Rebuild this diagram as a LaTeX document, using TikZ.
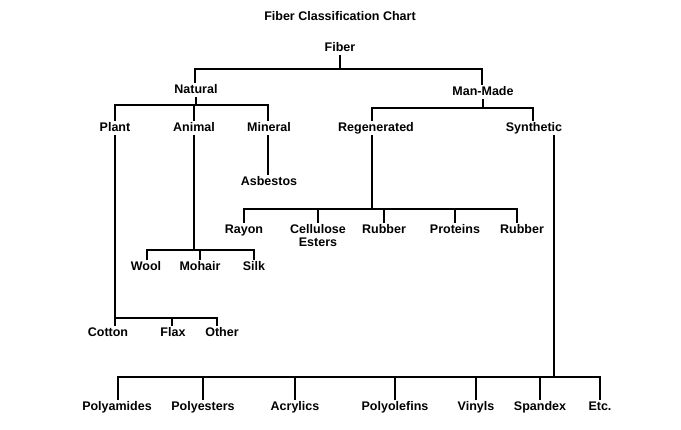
\documentclass[tikz,border=0pt]{standalone}
\usepackage{fontspec}
\setmainfont{Liberation Sans}
\begin{document}
\begin{tikzpicture}[x=1pt,y=-1pt,
    lbl/.style={font=\fontsize{12.5}{13.5}\selectfont\bfseries, inner sep=1pt, align=center, text height=9pt, text depth=2.5pt},
    link/.style={line width=1.4pt}]
\useasboundingbox (0,0) rectangle (681,430);
\node[lbl] (title) at (340,17) {Fiber Classification Chart};
\node[lbl] (fiber) at (340,48) {Fiber};
\node[lbl] (natural) at (196,90) {Natural};
\node[lbl] (manmade) at (483,92) {Man-Made};
\node[lbl] (plant) at (115,128) {Plant};
\node[lbl] (animal) at (194,128) {Animal};
\node[lbl] (mineral) at (269,128) {Mineral};
\node[lbl] (regen) at (376,128) {Regenerated};
\node[lbl] (synth) at (534,128) {Synthetic};
\node[lbl] (asbestos) at (269,182) {Asbestos};
\node[lbl] (rayon) at (244,230) {Rayon};
\node[lbl, anchor=north, text height=, text depth=] (cellulose) at (318,223) {Cellulose\\Esters};
\node[lbl] (rubber1) at (384,230) {Rubber};
\node[lbl] (proteins) at (455,230) {Proteins};
\node[lbl] (rubber2) at (522,230) {Rubber};
\node[lbl] (wool) at (146,267) {Wool};
\node[lbl] (mohair) at (200,267) {Mohair};
\node[lbl] (silk) at (254,267) {Silk};
\node[lbl] (cotton) at (108,333) {Cotton};
\node[lbl] (flax) at (173,333) {Flax};
\node[lbl] (other) at (222,333) {Other};
\node[lbl] (polyamides) at (117,407) {Polyamides};
\node[lbl] (polyesters) at (203,407) {Polyesters};
\node[lbl] (acrylics) at (295,407) {Acrylics};
\node[lbl] (polyolefins) at (395,407) {Polyolefins};
\node[lbl] (vinyls) at (476,407) {Vinyls};
\node[lbl] (spandex) at (540,407) {Spandex};
\node[lbl] (etc) at (600,407) {Etc.};

% Fiber
\draw[link] (fiber.south) -- (340,69);
\draw[link] (natural.north -| 195,0) -- (195,69) -- (482,69) -- (manmade.north -| 482,0);
% Natural
\draw[link] (natural.south) -- (196,105);
\draw[link] (plant.north) -- (115,105) -- (268,105) -- (mineral.north -| 268,0);
\draw[link] (animal.north -| 194,0) -- (194,105);
% Man-Made
\draw[link] (manmade.south) -- (483,108);
\draw[link] (regen.north -| 372,0) -- (372,108) -- (533,108) -- (synth.north -| 533,0);
% Mineral
\draw[link] (mineral.south -| 268,0) -- (asbestos.north -| 268,0);
% Regenerated
\draw[link] (regen.south -| 372,0) -- (372,209);
\draw[link] (rayon.north) -- (244,209) -- (517,209) -- (rubber2.north -| 517,0);
\draw[link] (cellulose.north) -- (318,209);
\draw[link] (rubber1.north) -- (384,209);
\draw[link] (proteins.north) -- (455,209);
% Animal
\draw[link] (animal.south -| 194,0) -- (194,250);
\draw[link] (wool.north -| 147,0) -- (147,250) -- (254,250) -- (silk.north);
\draw[link] (mohair.north -| 200,0) -- (200,250);
% Plant
\draw[link] (plant.south) -- (115,318);
\draw[link] (cotton.north -| 115,0) -- (115,318) -- (217,318) -- (other.north -| 217,0);
\draw[link] (flax.north -| 172,0) -- (172,318);
% Synthetic
\draw[link] (synth.south -| 554,0) -- (554,377);
\draw[link] (polyamides.north -| 118,0) -- (118,377) -- (600,377) -- (etc.north);
\draw[link] (polyesters.north) -- (203,377);
\draw[link] (acrylics.north) -- (295,377);
\draw[link] (polyolefins.north) -- (395,377);
\draw[link] (vinyls.north) -- (476,377);
\draw[link] (spandex.north) -- (540,377);
\end{tikzpicture}
\end{document}
